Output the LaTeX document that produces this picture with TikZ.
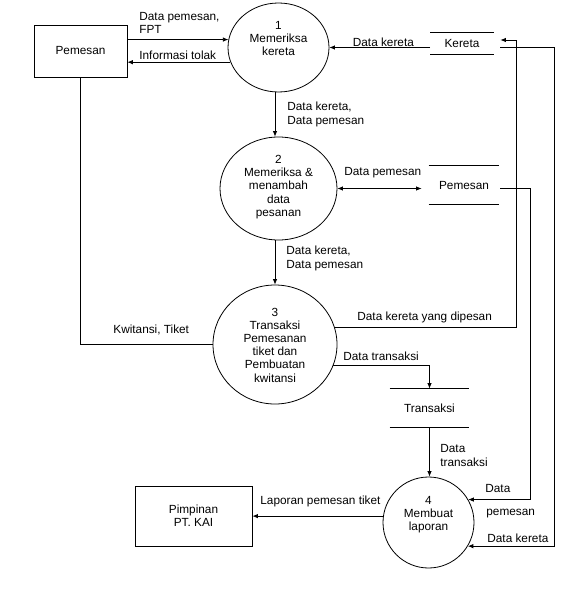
\documentclass[tikz,border=0pt]{standalone}
\usepackage{fontspec}
\setmainfont{Liberation Sans}
\usetikzlibrary{arrows.meta,shapes.geometric}

\newcommand{\dfdfont}{\fontsize{11.8}{13.2}\selectfont}

\tikzset{
  entity/.style={draw, rectangle, align=center, font=\dfdfont},
  proc/.style={draw, ellipse, inner sep=0pt},
  proctext/.style={align=center, font=\dfdfont, inner sep=0pt},
  store/.style={font=\dfdfont, inner sep=0pt},
  flowlbl/.style={align=left, font=\dfdfont, inner sep=0pt, anchor=west},
  flow/.style={-{Latex[length=5.5pt,width=4.5pt]}},
  biflow/.style={{Latex[length=5.5pt,width=4.5pt]}-{Latex[length=5.5pt,width=4.5pt]}}
}

\begin{document}
\begin{tikzpicture}[x=1pt, y=-1pt, line width=0.8pt]
\useasboundingbox (0,0) rectangle (584,604);

% External entities
\node[entity, minimum width=93pt, minimum height=52pt] (pem) at (80.5,51) {Pemesan};
\node[entity, minimum width=117pt, minimum height=60pt] (pimp) at (193.5,516) {Pimpinan\\PT. KAI};

% Processes
\node[proc, minimum width=101pt, minimum height=89pt] (p1) at (278.5,47.5) {};
\node[proc, minimum width=117pt, minimum height=103pt] (p2) at (278.5,188.5) {};
\node[proc, minimum width=124pt, minimum height=119pt] (p3) at (275,344.5) {};
\node[proc, minimum width=91pt, minimum height=91pt] (p4) at (428.5,522.5) {};
\node[proctext] (p1t) at (278.5,38.5) {1\\Memeriksa\\kereta};
\node[proctext] (p2t) at (278.5,187) {2\\Memeriksa \&\\menambah\\data\\pesanan};
\node[proctext] (p3t) at (275,345) {3\\Transaksi\\Pemesanan\\tiket dan\\Pembuatan\\kwitansi};
\node[proctext] (p4t) at (428.5,514.5) {4\\Membuat\\laporan};

% Data stores
\node[store, minimum width=63pt, minimum height=21.6pt] (kereta) at (462,43.5) {Kereta};
\node[store, minimum width=70pt, minimum height=38pt] (pstore) at (464,185) {Pemesan};
\node[store, minimum width=79pt, minimum height=38pt] (trans) at (429.5,408) {Transaksi};
\foreach \s in {kereta,pstore,trans}
  \draw (\s.north west) -- (\s.north east) (\s.south west) -- (\s.south east);

% Flows
\coordinate (kin) at ([xshift=6.5pt,yshift=3.5pt]kereta.east);
\coordinate (kout) at ([xshift=6.5pt,yshift=-4pt]kereta.east);
\coordinate (pout) at ([xshift=1pt]pstore.east |- p2.east);

\draw[flow] (pem.east |- p1.171) -- (p1.171);
\draw[flow] (p1.197) -- (p1.197 -| pem.east);
\draw[flow] (kereta.west |- p1.east) -- (p1.east);
\draw[flow] (p1.south -| p3.center) -- (p2.north -| p3.center);
\draw[flow] (p2.south -| p3.center) -- (p3.north);
\draw[biflow] (p2.east) -- ([xshift=-7pt]pstore.west |- p2.east);
\draw (pem.south) |- (p3.west);
\draw[flow] (p3.16) -| ([xshift=16pt]kin) -- (kin);
\draw[flow] (p3.340) -| (trans.north);
\draw[flow] (trans.south) -- (trans.south |- p4.north);
\draw[flow] (pout) -| ([xshift=30pt]pout) |- (p4.30);
\draw[flow] (kout) -| ([xshift=54pt]kout) |- (p4.329);
\draw[flow] (p4.172) -- (p4.172 -| pimp.east);

% Labels
\node[flowlbl] (l1) at (139,23) {Data pemesan,\\FPT};
\node[flowlbl] (l2) at (139,55) {Informasi tolak};
\node[flowlbl] (l3) at (352.5,42) {Data kereta};
\node[flowlbl] (l4) at (287,114.5) {Data kereta,\\Data pemesan};
\node[flowlbl] (l5) at (344,173) {Data pemesan};
\node[flowlbl] (l6) at (286,258.5) {Data kereta,\\Data pemesan};
\node[flowlbl] (l7) at (113,330) {Kwitansi, Tiket};
\node[flowlbl] (l8) at (357,317) {Data kereta yang dipesan};
\node[flowlbl] (l9) at (343,356.5) {Data transaksi};
\node[flowlbl] (l10) at (440,455.5) {Data\\transaksi};
\node[flowlbl] (l11) at (485,488) {Data};
\node[flowlbl] (l12) at (486,514) {pemesan};
\node[flowlbl] (l13) at (487,538) {Data kereta};
\node[flowlbl] (l14) at (260,501) {Laporan pemesan tiket};
\end{tikzpicture}
\end{document}
